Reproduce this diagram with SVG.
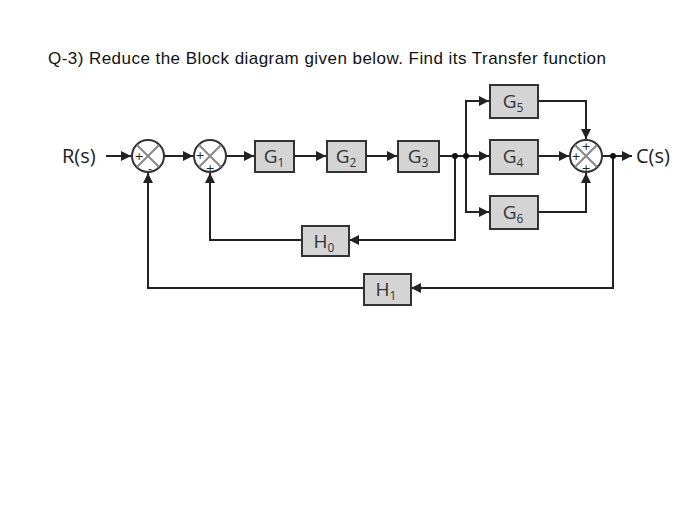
<svg xmlns="http://www.w3.org/2000/svg" width="700" height="523" viewBox="0 0 700 523">
<style>
.b{fill:#d4d4d4;stroke:#333;stroke-width:2}
.s{fill:#fff;stroke:#333;stroke-width:2}
.x{stroke:#888;stroke-width:2}
.l{fill:none;stroke:#222;stroke-width:2}
.t{font-family:"Open Sans",sans-serif;font-size:20px;fill:#222}
.g{font-family:"Open Sans",sans-serif;font-size:19px;fill:#333;text-anchor:middle}
.sub{font-size:12px}
.p{font-family:"DejaVu Sans",sans-serif;font-size:11px;fill:#222;text-anchor:middle}
</style>
<defs><marker id="a" viewBox="0 0 10 10" refX="10" refY="5" markerWidth="5" markerHeight="5" orient="auto"><path d="M0,0L10,5L0,10z" fill="#222"/></marker></defs>
<rect width="700" height="523" fill="#fff"/>
<text x="48" y="64" font-family="'Liberation Sans',sans-serif" font-size="17" fill="#111" textLength="558">Q-3) Reduce the Block diagram given below. Find its Transfer function</text>
<g id="connectors">
<path class="l" d="M106,156H131" marker-end="url(#a)"/>
<path class="l" d="M164,156H193" marker-end="url(#a)"/>
<path class="l" d="M226,156H254" marker-end="url(#a)"/>
<path class="l" d="M294,156H326" marker-end="url(#a)"/>
<path class="l" d="M366,156H397" marker-end="url(#a)"/>
<path class="l" d="M439,156H489" marker-end="url(#a)"/>
<path class="l" d="M466,156V101H489" marker-end="url(#a)"/>
<path class="l" d="M466,156V212H489" marker-end="url(#a)"/>
<path class="l" d="M538,101H586V139" marker-end="url(#a)"/>
<path class="l" d="M538,156H569" marker-end="url(#a)"/>
<path class="l" d="M538,212H586V173" marker-end="url(#a)"/>
<path class="l" d="M602,156H632" marker-end="url(#a)"/>
<path class="l" d="M455,156V240H349" marker-end="url(#a)"/>
<path class="l" d="M302,240H210V173" marker-end="url(#a)"/>
<path class="l" d="M613,156V288H411" marker-end="url(#a)"/>
<path class="l" d="M364,288H148V173" marker-end="url(#a)"/>
<circle cx="455" cy="156" r="3" fill="#111"/>
<circle cx="466" cy="156" r="3" fill="#111"/>
<circle cx="613" cy="156" r="3" fill="#111"/>
</g>
<g id="R"><text class="t" x="62" y="163">R(s)</text></g>
<g id="C"><text class="t" x="636" y="163">C(s)</text></g>
<g id="sum1"><circle class="s" cx="148" cy="156" r="16"/><path class="x" d="M137,145L159,167M159,145L137,167"/><text class="p" x="139" y="160">+</text><text class="p" x="150" y="172">-</text></g>
<g id="sum2"><circle class="s" cx="210" cy="156" r="16"/><path class="x" d="M199,145L221,167M221,145L199,167"/><text class="p" x="200" y="159">+</text><text class="p" x="210" y="172">+</text></g>
<g id="sum3"><circle class="s" cx="586" cy="156" r="16"/><path class="x" d="M575,145L597,167M597,145L575,167"/><text class="p" x="586" y="150">+</text><text class="p" x="576" y="160">+</text><text class="p" x="586" y="172">+</text></g>
<g id="G1"><rect class="b" x="255" y="141" width="39" height="31"/><text class="g" x="274" y="163">G<tspan class="sub" dy="4">1</tspan></text></g>
<g id="G2"><rect class="b" x="327" y="141" width="39" height="31"/><text class="g" x="346" y="163">G<tspan class="sub" dy="4">2</tspan></text></g>
<g id="G3"><rect class="b" x="398" y="141" width="41" height="31"/><text class="g" x="418" y="163">G<tspan class="sub" dy="4">3</tspan></text></g>
<g id="G5"><rect class="b" x="490" y="85" width="48" height="33"/><text class="g" x="513" y="108">G<tspan class="sub" dy="4">5</tspan></text></g>
<g id="G4"><rect class="b" x="490" y="140" width="48" height="34"/><text class="g" x="513" y="163">G<tspan class="sub" dy="4">4</tspan></text></g>
<g id="G6"><rect class="b" x="490" y="196" width="48" height="33"/><text class="g" x="513" y="219">G<tspan class="sub" dy="4">6</tspan></text></g>
<g id="H0"><rect class="b" x="302" y="226" width="47" height="30"/><text class="g" x="324" y="248">H<tspan class="sub" dy="4">0</tspan></text></g>
<g id="H1"><rect class="b" x="364" y="274" width="47" height="31"/><text class="g" x="386" y="296">H<tspan class="sub" dy="4">1</tspan></text></g>
</svg>
